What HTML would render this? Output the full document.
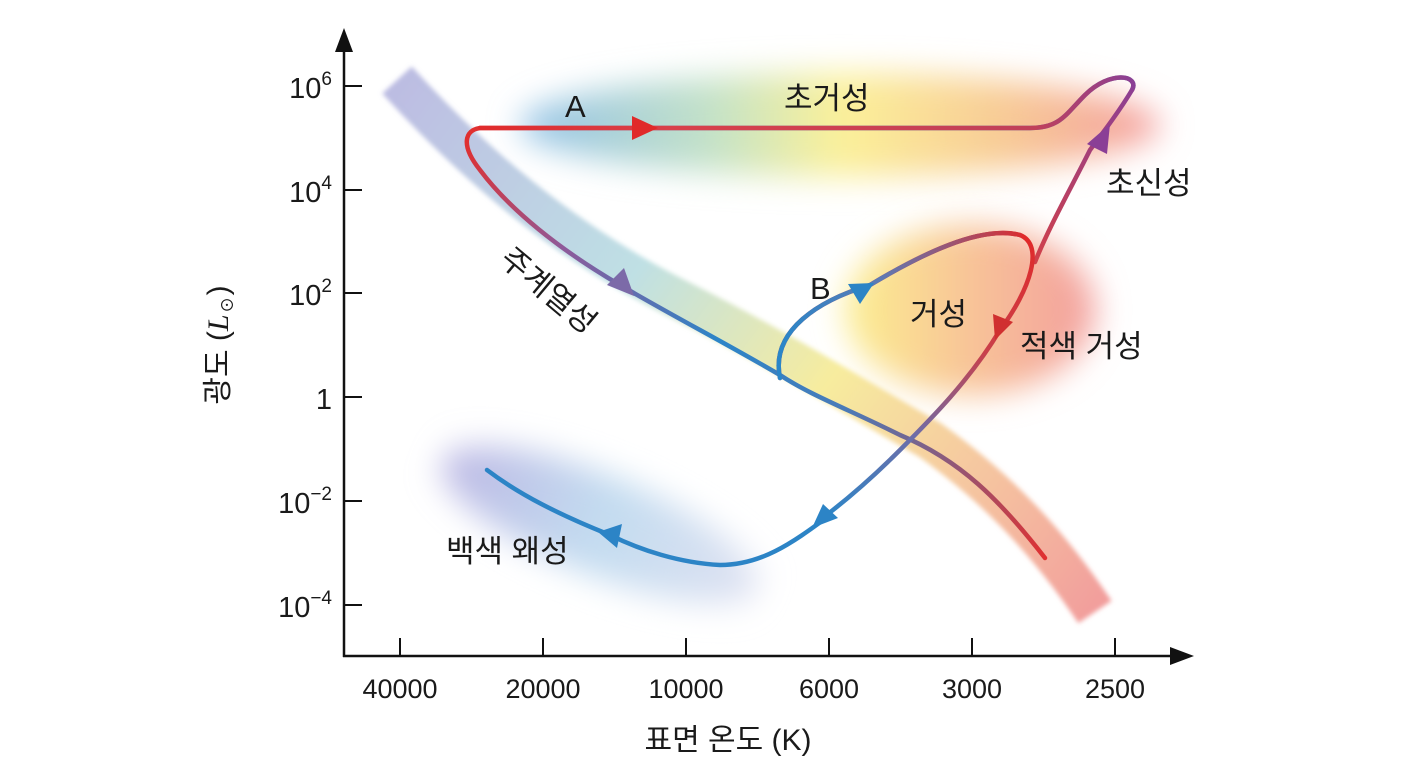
<!DOCTYPE html>
<html><head><meta charset="utf-8"><style>
body{margin:0;background:#fff}
svg{display:block}
text{font-family:"Liberation Sans","Noto Sans CJK KR",sans-serif;fill:#1a1a1a}
</style></head><body>
<svg width="1408" height="768" viewBox="0 0 1408 768" xmlns="http://www.w3.org/2000/svg">
<defs>
<filter id="b1" x="-50%" y="-50%" width="200%" height="200%"><feGaussianBlur stdDeviation="16"/></filter>
<filter id="b2" x="-50%" y="-50%" width="200%" height="200%"><feGaussianBlur stdDeviation="2.5"/></filter>
<linearGradient id="sg" x1="520" y1="0" x2="1160" y2="0" gradientUnits="userSpaceOnUse">
<stop offset="0" stop-color="#93c2e8"/><stop offset="0.3" stop-color="#c4e2c8"/><stop offset="0.5" stop-color="#fbf19a"/><stop offset="0.75" stop-color="#f8cc96"/><stop offset="1" stop-color="#f49ea0"/></linearGradient>
<linearGradient id="gg" x1="850" y1="0" x2="1100" y2="0" gradientUnits="userSpaceOnUse">
<stop offset="0" stop-color="#fbee90"/><stop offset="0.5" stop-color="#f8c298"/><stop offset="1" stop-color="#f29c9e"/></linearGradient>
<linearGradient id="wg" x1="430" y1="0" x2="770" y2="0" gradientUnits="userSpaceOnUse">
<stop offset="0" stop-color="#bdb8e4"/><stop offset="0.5" stop-color="#c3dcf0"/><stop offset="1" stop-color="#dfe2f2"/></linearGradient>
<linearGradient id="ms" x1="395" y1="80" x2="1095" y2="610" gradientUnits="userSpaceOnUse">
<stop offset="0" stop-color="#bcbce2"/><stop offset="0.35" stop-color="#bfe0e4"/><stop offset="0.6" stop-color="#f7ec9e"/><stop offset="0.8" stop-color="#f5c6a0"/><stop offset="1" stop-color="#f29e9c"/></linearGradient>
<linearGradient id="mt" x1="470" y1="135" x2="1045" y2="560" gradientUnits="userSpaceOnUse">
<stop offset="0" stop-color="#e03030"/><stop offset="0.2" stop-color="#8e5a9a"/><stop offset="0.45" stop-color="#2c85c8"/><stop offset="0.65" stop-color="#4a7bb8"/><stop offset="1" stop-color="#e03030"/></linearGradient>
<linearGradient id="at" x1="470" y1="0" x2="1135" y2="0" gradientUnits="userSpaceOnUse">
<stop offset="0" stop-color="#e02a2a"/><stop offset="0.3" stop-color="#d8404a"/><stop offset="0.85" stop-color="#c0405a"/><stop offset="1" stop-color="#8a3f96"/></linearGradient>
<linearGradient id="bt" x1="0" y1="240" x2="0" y2="520" gradientUnits="userSpaceOnUse">
<stop offset="0" stop-color="#e02a2a"/><stop offset="0.4" stop-color="#c9404a"/><stop offset="0.7" stop-color="#6e6da8"/><stop offset="1" stop-color="#2a86c8"/></linearGradient>
<linearGradient id="bu" x1="780" y1="0" x2="1030" y2="0" gradientUnits="userSpaceOnUse">
<stop offset="0" stop-color="#2a86c8"/><stop offset="0.4" stop-color="#5d7ab4"/><stop offset="1" stop-color="#e02a2a"/></linearGradient>
<linearGradient id="sn" x1="0" y1="260" x2="0" y2="80" gradientUnits="userSpaceOnUse">
<stop offset="0" stop-color="#d0404a"/><stop offset="1" stop-color="#8a3f96"/></linearGradient>
</defs>

<ellipse cx="840" cy="125" rx="320" ry="52" fill="url(#sg)" filter="url(#b1)"/>
<ellipse cx="970" cy="310" rx="125" ry="85" fill="url(#gg)" filter="url(#b1)"/>
<ellipse cx="600" cy="525" rx="170" ry="50" fill="url(#wg)" filter="url(#b1)" transform="rotate(22 600 525)"/>

<path d="M397,80 C470,160 560,240 680,300 C780,350 860,400 930,440 C1000,490 1050,545 1095,612" fill="none" stroke="url(#ms)" stroke-width="40" filter="url(#b2)"/>

<g stroke="#111" stroke-width="2.5" fill="none">
<line x1="344" y1="48" x2="344" y2="657"/>
<line x1="343" y1="656" x2="1175" y2="656"/>
<g stroke-width="2">
<line x1="344" y1="86" x2="362" y2="86"/><line x1="344" y1="190" x2="362" y2="190"/>
<line x1="344" y1="293" x2="362" y2="293"/><line x1="344" y1="397" x2="362" y2="397"/>
<line x1="344" y1="501" x2="362" y2="501"/><line x1="344" y1="605" x2="362" y2="605"/>
<line x1="400" y1="638" x2="400" y2="656"/><line x1="543" y1="638" x2="543" y2="656"/>
<line x1="686" y1="638" x2="686" y2="656"/><line x1="829" y1="638" x2="829" y2="656"/>
<line x1="972" y1="638" x2="972" y2="656"/><line x1="1115" y1="638" x2="1115" y2="656"/>
</g></g>
<polygon points="344,28 335,52 353,52" fill="#111"/>
<polygon points="1194,656 1170,647 1170,665" fill="#111"/>

<g font-size="29" text-anchor="end">
<text x="332" y="98">10<tspan font-size="19" dy="-13">6</tspan></text>
<text x="332" y="202">10<tspan font-size="19" dy="-13">4</tspan></text>
<text x="332" y="305">10<tspan font-size="19" dy="-13">2</tspan></text>
<text x="332" y="409">1</text>
<text x="332" y="513">10<tspan font-size="19" dy="-13">−2</tspan></text>
<text x="332" y="617">10<tspan font-size="19" dy="-13">−4</tspan></text>
</g>
<g font-size="27" text-anchor="middle">
<text x="400" y="698">40000</text><text x="543" y="698">20000</text>
<text x="686" y="698">10000</text><text x="829" y="698">6000</text>
<text x="972" y="698">3000</text><text x="1115" y="698">2500</text>
<text x="728" y="750" font-size="30">표면 온도 (K)</text>
</g>
<text transform="translate(228,345) rotate(-90)" font-size="30" text-anchor="middle">광도 (<tspan font-family="Liberation Serif" font-style="italic">L</tspan><tspan font-size="19" dy="6">☉</tspan><tspan dy="-6">)</tspan></text>

<g fill="none" stroke-width="4.5" stroke-linecap="round">
<path d="M1045,558 C1000,500 960,460 900,435 C850,410 810,395 780,375 C720,340 680,320 620,285 C560,250 510,210 480,170 C460,145 465,130 480,128 L1030,128 C1060,128 1065,115 1085,95 C1110,70 1140,75 1132,90" stroke="url(#mt)"/>
<path d="M480,128 L1030,128 C1060,128 1065,115 1085,95 C1110,70 1140,75 1132,90" stroke="url(#at)"/>
<path d="M1132,90 C1120,110 1105,130 1090,150 C1070,190 1050,225 1035,262" stroke="url(#sn)"/>
<path d="M780,378 C770,330 820,300 870,285 C920,255 980,225 1020,235 C1045,245 1030,290 1000,330 C970,380 930,420 900,450 C870,480 840,505 820,520" stroke="url(#bt)"/>
<path d="M780,378 C770,330 820,300 870,285 C920,255 980,225 1020,235" stroke="url(#bu)"/>
<path d="M830,515 C790,545 760,565 720,565 C680,563 640,550 610,535 C560,515 520,495 487,470" stroke="#2c84c6"/>
</g>
<polygon points="658,128 632,116 632,140" fill="#e02a2a"/>
<polygon points="634,296 607,285 624,268" fill="#7c6aa8"/>
<polygon points="874,283 848,284 860,304" fill="#2c84c6"/>
<polygon points="995,340 993,314 1013,322" fill="#d03030"/>
<polygon points="812,528 823,504 838,518" fill="#2c84c6"/>
<polygon points="598,532 622,524 617,548" fill="#2c84c6"/>
<polygon points="1110,124 1087,144 1107,154" fill="#8a3f96"/>

<g font-size="31">
<text x="565" y="117">A</text>
<text x="784" y="109">초거성</text>
<text x="1106" y="194">초신성</text>
<text x="810" y="299">B</text>
<text x="910" y="325">거성</text>
<text x="1020" y="357">적색 거성</text>
<text x="446" y="562">백색 왜성</text>
<text transform="translate(498,262) rotate(40)">주계열성</text>
</g>
</svg>
</body></html>
